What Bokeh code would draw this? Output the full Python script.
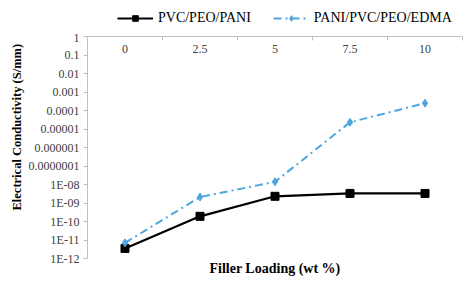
from bokeh.plotting import figure
from bokeh.layouts import column
from bokeh.models import (Range1d, FixedTicker, LinearAxis, Legend, LegendItem,
                          CustomJSTickFormatter, Title)
from bokeh.core.properties import value
from bokeh.embed import file_html
from bokeh.resources import INLINE

# Filler loading (wt %) and measured conductivity (S/mm)
loading = [0, 2.5, 5, 7.5, 10]
loading_labels = ["0", "2.5", "5", "7.5", "10"]
pvc_peo_pani = [3.5e-12, 1.9e-10, 2.3e-9, 3.3e-9, 3.3e-9]
pani_pvc_peo_edma = [7e-12, 2.1e-9, 1.4e-8, 2.3e-5, 2.5e-4]
series_names = ["PVC/PEO/PANI", "PANI/PVC/PEO/EDMA"]

y_ticks = [1, 1e-1, 1e-2, 1e-3, 1e-4, 1e-5, 1e-6, 1e-7, 1e-8, 1e-9, 1e-10, 1e-11, 1e-12]
y_tick_labels = ["1", "0.1", "0.01", "0.001", "0.0001", "0.00001", "0.000001",
                 "0.0000001", "1E-08", "1E-09", "1E-10", "1E-11", "1E-12"]
x_boundaries = [-1.25, 1.25, 3.75, 6.25, 8.75, 11.25]

SERIF = "Liberation Serif"
AXIS_GRAY = "#bfbfbf"
LABEL_GRAY = "#404040"
BLUE = "#4ea6df"

STYLE_A = dict(line=dict(line_color="black", line_width=2.2),
               marker=dict(marker="square", size=8, fill_color="black", line_color="black"))
STYLE_B = dict(line=dict(line_color=BLUE, line_width=2, line_dash="8 4 2 4"),
               marker=dict(marker="diamond", size=8, fill_color=BLUE, line_color=BLUE))

p = figure(width=474, height=256, output_backend="svg", toolbar_location=None,
           y_axis_type="log", x_range=Range1d(-1.25, 11.25),
           y_range=Range1d(1e-12, 1),
           min_border_left=87, min_border_right=12, min_border_top=6,
           min_border_bottom=28)
p.outline_line_color = None
p.xgrid.visible = False
p.ygrid.visible = False

# Bottom axis only carries the title
xb = p.xaxis[0]
xb.ticker = FixedTicker(ticks=[])
xb.axis_line_color = None
xb.major_tick_line_color = None
xb.minor_tick_line_color = None
xb.axis_label = "Filler Loading (wt %)"
xb.axis_label_text_font = SERIF
xb.axis_label_text_font_style = "bold"
xb.axis_label_text_font_size = "14px"
xb.axis_label_text_color = "black"
xb.axis_label_standoff = 2

# Top category axis with ticks at the category boundaries
xt = LinearAxis(ticker=FixedTicker(ticks=x_boundaries),
                formatter=CustomJSTickFormatter(code="return '';"))
xt.axis_line_color = AXIS_GRAY
xt.major_tick_line_color = AXIS_GRAY
xt.major_tick_in = 4
xt.major_tick_out = 0
xt.minor_tick_line_color = None
xt.major_label_standoff = 0
p.add_layout(xt, "above")

# Left log axis
ya = p.yaxis[0]
ya.ticker = FixedTicker(ticks=y_ticks)
ya.formatter = CustomJSTickFormatter(args=dict(labels=y_tick_labels),
                                     code="return labels[Math.round(-Math.log10(tick))];")
ya.axis_line_color = AXIS_GRAY
ya.major_tick_line_color = AXIS_GRAY
ya.major_tick_out = 4
ya.major_tick_in = 0
ya.minor_tick_line_color = None
ya.major_label_text_font = SERIF
ya.major_label_text_font_size = "12px"
ya.major_label_text_color = LABEL_GRAY
ya.major_label_standoff = 4

# Vertical title, sitting a little above the frame's middle
p.add_layout(Title(text="Electrical Conductivity (S/mm)", align="left", offset=48,
                   text_font=SERIF, text_font_style="bold", text_font_size="12.5px",
                   text_color="black", standoff=4), "left")

# Category labels just under the top axis line
p.text(x=loading, y=[1] * len(loading), text=loading_labels, y_offset=8,
       text_font=value(SERIF), text_font_size="12px", text_color=LABEL_GRAY,
       text_align="center", text_baseline="top")

p.line(loading, pvc_peo_pani, **STYLE_A["line"])
p.scatter(loading, pvc_peo_pani, **STYLE_A["marker"])
p.line(loading, pani_pvc_peo_edma, **STYLE_B["line"])
p.scatter(loading, pani_pvc_peo_edma, **STYLE_B["marker"])

# Legend strip across the top (its frame lines up with the plot frame below);
# the sample renderers sit outside the strip's range so only the legend shows them
lg = figure(width=474, height=30, output_backend="svg", toolbar_location=None,
            x_range=Range1d(0, 1), y_range=Range1d(0, 1),
            min_border_left=0, min_border_right=0, min_border_top=0,
            min_border_bottom=0)
lg.axis.visible = False
lg.grid.visible = False
lg.outline_line_color = None
off = [5, 6]
la = lg.line(off, off, **STYLE_A["line"])
ma = lg.scatter(off, off, **STYLE_A["marker"])
lb = lg.line(off, off, **STYLE_B["line"])
mb = lg.scatter(off, off, **STYLE_B["marker"])
legend = Legend(items=[LegendItem(label=series_names[0], renderers=[la, ma]),
                       LegendItem(label=series_names[1], renderers=[lb, mb])],
                orientation="horizontal", location=(30, 4),
                label_text_font=SERIF, label_text_font_size="14px",
                label_text_color="black", glyph_width=36, glyph_height=14,
                label_standoff=5, spacing=22, padding=2, margin=0,
                border_line_color=None, background_fill_alpha=0)
lg.add_layout(legend)

layout = column(lg, p, spacing=0)
open("out.html", "w").write(file_html(layout, INLINE))
